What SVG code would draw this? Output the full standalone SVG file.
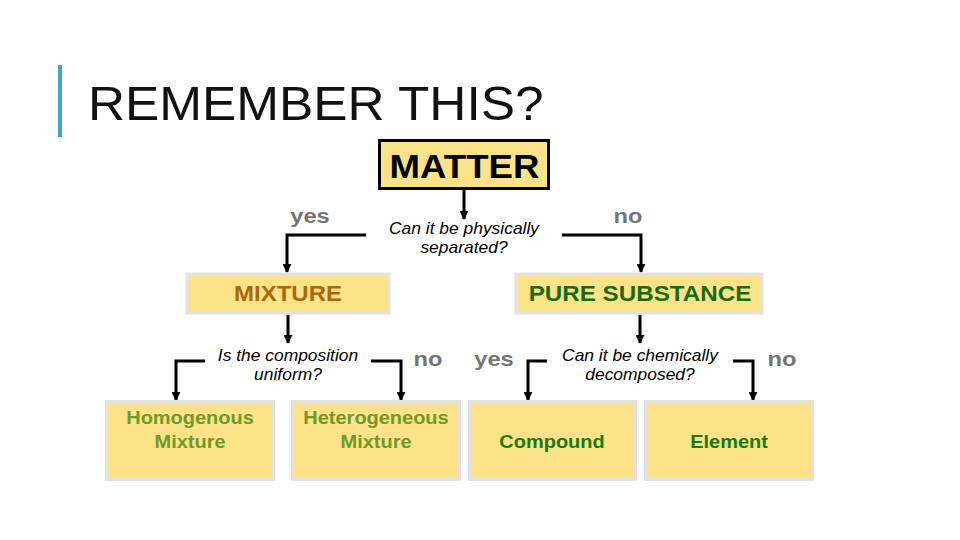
<svg xmlns="http://www.w3.org/2000/svg" width="960" height="540" viewBox="0 0 960 540">
<defs>
<marker id="ah" viewBox="0 0 10 10" refX="9" refY="5" markerWidth="3" markerHeight="3" orient="auto" markerUnits="strokeWidth">
<path d="M0,0 L10,5 L0,10 z" fill="#000"/>
</marker>
<style>
.box{fill:#FCE38A;stroke:#E2E2E2;stroke-width:3}
text{font-family:"Liberation Sans",Arial,sans-serif}
.q{font-style:italic;font-size:16px;fill:#000;text-anchor:middle}
.yn{font-weight:bold;font-size:21px;fill:#757575;text-anchor:middle}
.lbl{font-weight:bold;font-size:18px;text-anchor:middle}
.big{font-weight:bold;font-size:22px;text-anchor:middle}
.conn{fill:none;stroke:#000;stroke-width:3;marker-end:url(#ah)}
</style>
</defs>
<rect width="960" height="540" fill="#fff"/>
<g id="title">
<rect x="58" y="65" width="4" height="72" fill="#3FA4CF"/>
<text transform="translate(88 120) scale(1.07 1)" font-size="48" fill="#111">REMEMBER THIS?</text>
</g>
<g id="connectors">
<path class="conn" d="M464,190 V219"/>
<path class="conn" d="M366,235 H287 V272"/>
<path class="conn" d="M562,235 H641 V272"/>
<path class="conn" d="M288,315 V343"/>
<path class="conn" d="M205,361 H176 V400"/>
<path class="conn" d="M371,361 H401 V400"/>
<path class="conn" d="M640,315 V343"/>
<path class="conn" d="M547,361 H528 V400"/>
<path class="conn" d="M733,361 H753 V400"/>
</g>
<g id="matter">
<rect x="379.5" y="140.5" width="169" height="48" fill="#FCE38A" stroke="#000" stroke-width="3"/>
<text transform="translate(464.5 178) scale(1.11 1)" font-weight="bold" font-size="33" text-anchor="middle" fill="#000">MATTER</text>
</g>
<g id="q1">
<text class="q" transform="translate(464 234) scale(1.09 1)">Can it be physically</text>
<text class="q" transform="translate(464 253) scale(1.09 1)">separated?</text>
</g>
<g id="yes1"><text class="yn" transform="translate(310 223) scale(1.13 1)">yes</text></g>
<g id="no1"><text class="yn" transform="translate(628 223) scale(1.13 1)">no</text></g>
<g id="mixture">
<rect class="box" x="187" y="274" width="202" height="39"/>
<text class="big" transform="translate(288 301) scale(1.09 1)" fill="#A9690B">MIXTURE</text>
</g>
<g id="pure">
<rect class="box" x="516" y="274" width="246" height="39"/>
<text class="big" transform="translate(640 301) scale(1.1 1)" fill="#1A6A10">PURE SUBSTANCE</text>
</g>
<g id="q2">
<text class="q" transform="translate(288 361) scale(1.09 1)">Is the composition</text>
<text class="q" transform="translate(288 380) scale(1.09 1)">uniform?</text>
</g>
<g id="no2"><text class="yn" transform="translate(428 366) scale(1.13 1)">no</text></g>
<g id="q3">
<text class="q" transform="translate(640 361) scale(1.09 1)">Can it be chemically</text>
<text class="q" transform="translate(640 380) scale(1.09 1)">decomposed?</text>
</g>
<g id="yes3"><text class="yn" transform="translate(494 366) scale(1.13 1)">yes</text></g>
<g id="no3"><text class="yn" transform="translate(782 366) scale(1.13 1)">no</text></g>
<g id="homogenous">
<rect class="box" x="106.5" y="401.5" width="167" height="78"/>
<text class="lbl" transform="translate(190 424) scale(1.11 1)" fill="#6E9A28">Homogenous</text>
<text class="lbl" transform="translate(190 448) scale(1.11 1)" fill="#6E9A28">Mixture</text>
</g>
<g id="heterogeneous">
<rect class="box" x="292.5" y="401.5" width="167" height="78"/>
<text class="lbl" transform="translate(376 424) scale(1.11 1)" fill="#6E9A28">Heterogeneous</text>
<text class="lbl" transform="translate(376 448) scale(1.11 1)" fill="#6E9A28">Mixture</text>
</g>
<g id="compound">
<rect class="box" x="469.5" y="401.5" width="166" height="78"/>
<text class="lbl" transform="translate(552 448) scale(1.11 1)" fill="#1A7A10">Compound</text>
</g>
<g id="element">
<rect class="box" x="645.5" y="401.5" width="167" height="78"/>
<text class="lbl" transform="translate(729 448) scale(1.11 1)" fill="#1A7A10">Element</text>
</g>
</svg>
